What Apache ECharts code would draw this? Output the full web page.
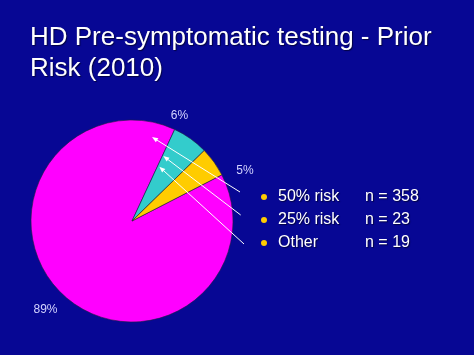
<!DOCTYPE html>
<html>
<head>
<meta charset="utf-8">
<script src="https://cdn.jsdelivr.net/npm/echarts@6/dist/echarts.min.js"></script>
<style>html,body{margin:0;padding:0;background:#070794;}#c{width:474px;height:355px;}</style>
</head>
<body>
<div id="c"></div>
<script>
const categories = ['50% risk', '25% risk', 'Other'];
const counts = [358, 23, 19];
const sliceColors = ['#ff00ff', '#33cccc', '#ffcc00'];
const titleText = 'HD Pre-symptomatic testing - Prior\nRisk (2010)';
const labelPos = [[45.5, 309.5], [179.5, 116], [245, 170.7]];
const arrows = [[[240, 192], [152, 137]], [[240.7, 215], [163.3, 156]], [[244, 244], [159.3, 166.7]]];

const chart = echarts.init(document.getElementById('c'));
const FONT = '"Liberation Sans", Arial, sans-serif';
const shadow = {textShadowColor: 'rgba(0,0,0,0.55)', textShadowOffsetX: 1, textShadowOffsetY: 1, textShadowBlur: 1};

const graphics = [];
arrows.forEach(a => {
  const [p0, p1] = a;
  const dx = p1[0] - p0[0], dy = p1[1] - p0[1];
  const len = Math.hypot(dx, dy);
  const ux = dx / len, uy = dy / len;
  const L = 6, W = 2.4;
  const bx = p1[0] - ux * L, by = p1[1] - uy * L;
  graphics.push({type: 'line', shape: {x1: p0[0], y1: p0[1], x2: bx, y2: by}, style: {stroke: '#ffffff', lineWidth: 1}, z: 10});
  graphics.push({type: 'polygon', shape: {points: [[p1[0], p1[1]], [bx - uy * W, by + ux * W], [bx + uy * W, by - ux * W]]}, style: {fill: '#ffffff'}, z: 10});
});

chart.setOption({
  backgroundColor: '#070794',
  animation: false,
  title: {
    text: titleText, left: 30, top: 22, padding: 0,
    textStyle: Object.assign({color: '#ffffff', fontSize: 26, fontWeight: 'normal', fontFamily: FONT, lineHeight: 31}, shadow)
  },
  legend: {
    orient: 'vertical', left: 261, top: 189, padding: 0,
    icon: 'circle', itemWidth: 18, itemHeight: 6, itemGap: 7,
    itemStyle: {color: '#ffcc00', borderWidth: 0},
    selectedMode: false,
    data: categories,
    formatter: name => {
      const i = categories.indexOf(name);
      return '{a|' + name + '}{b|n = ' + counts[i] + '}';
    },
    textStyle: {
      color: '#ffffff', fontSize: 16, fontFamily: FONT, lineHeight: 16,
      rich: {
        a: Object.assign({width: 87, color: '#ffffff', fontSize: 16, fontFamily: FONT}, shadow),
        b: Object.assign({color: '#ffffff', fontSize: 16, fontFamily: FONT}, shadow)
      }
    }
  },
  graphic: graphics,
  series: [{
    type: 'pie',
    center: [132, 221],
    radius: 101,
    startAngle: 27.2,
    clockwise: true,
    percentPrecision: 0,
    silent: true,
    avoidLabelOverlap: false,
    itemStyle: {borderColor: '#202040', borderWidth: 0.6},
    label: {show: true, position: 'outside', formatter: '{d}%', color: '#d4d4ff', fontSize: 12, fontFamily: FONT},
    labelLine: {show: false},
    labelLayout: params => {
      const p = labelPos[params.dataIndex];
      return {x: p[0], y: p[1], align: 'center', verticalAlign: 'middle', hideOverlap: false};
    },
    data: categories.map((c, i) => ({name: c, value: counts[i], itemStyle: {color: sliceColors[i]}}))
  }]
});
</script>
</body>
</html>
